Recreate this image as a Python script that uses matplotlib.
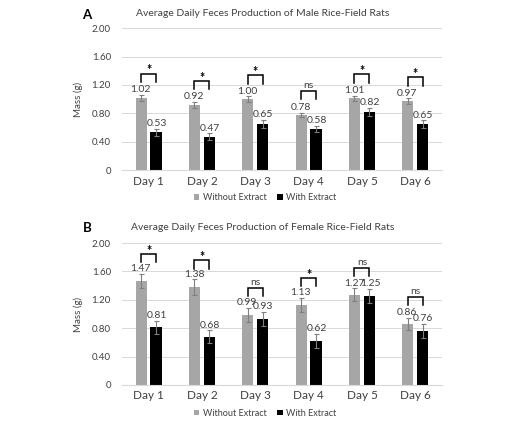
import matplotlib.pyplot as plt
import numpy as np

plt.rcParams['font.family'] = ['Lato', 'DejaVu Sans']

days = ["Day 1", "Day 2", "Day 3", "Day 4", "Day 5", "Day 6"]

male_without = [1.02, 0.92, 1.00, 0.78, 1.01, 0.97]
male_with = [0.53, 0.47, 0.65, 0.58, 0.82, 0.65]
male_without_err = [0.04, 0.04, 0.04, 0.03, 0.04, 0.04]
male_with_err = [0.05, 0.05, 0.06, 0.04, 0.06, 0.05]
male_sig = ["*", "*", "*", "ns", "*", "*"]

female_without = [1.47, 1.38, 0.99, 1.13, 1.27, 0.86]
female_with = [0.81, 0.68, 0.93, 0.62, 1.25, 0.76]
female_without_err = [0.10, 0.11, 0.10, 0.10, 0.09, 0.09]
female_with_err = [0.09, 0.09, 0.10, 0.10, 0.10, 0.10]
female_sig = ["*", "*", "ns", "*", "ns", "ns"]

yticks = [0, 0.4, 0.8, 1.2, 1.6, 2.0]
ytick_labels = ["0", "0.40", "0.80", "1.20", "1.60", "2.00"]

GRAY = '#a6a6a6'
TXT = '#404040'


def panel(ax, without, with_, err1, err2, sig, offset):
    x = np.arange(len(days))
    w = 0.21
    ekw = dict(ecolor='#7f7f7f', elinewidth=0.8, capsize=1.8, capthick=0.8)
    ax.bar(x - 0.14, without, w, color=GRAY, yerr=err1, error_kw=ekw,
           label="Without Extract", zorder=2)
    ax.bar(x + 0.14, with_, w, color='black', yerr=err2, error_kw=ekw,
           label="With Extract", zorder=2)
    for i in range(len(days)):
        for xx, v, e in ((x[i] - 0.15, without[i], err1[i]),
                         (x[i] + 0.15, with_[i], err2[i])):
            ax.annotate(f"{v:.2f}", (xx, v + e), xytext=(0, 0.5),
                        textcoords='offset points', ha='center', va='bottom',
                        fontsize=7.5, color=TXT)
        top = max(without[i], with_[i]) + offset
        ax.plot([x[i] - 0.14, x[i] - 0.14, x[i] + 0.14, x[i] + 0.14],
                [top - 0.12, top, top, top - 0.12], color='black', lw=1.1,
                solid_joinstyle='miter', zorder=3)
        if sig[i] == "*":
            ax.text(x[i], top - 0.04, "*", ha='center', va='bottom',
                    fontsize=9, fontweight='bold', color='black')
        else:
            ax.text(x[i], top + 0.01, "ns", ha='center', va='bottom',
                    fontsize=7.5, color=TXT)
    ax.set_xlim(-0.5, 5.5)
    ax.set_ylim(0, 2.0)
    ax.set_yticks(yticks)
    ax.set_yticklabels(ytick_labels)
    ax.set_xticks(x)
    ax.set_xticklabels(days)
    ax.grid(axis='y', color='#d9d9d9', lw=0.7, zorder=0)
    ax.set_axisbelow(True)
    for s in ['top', 'right', 'left']:
        ax.spines[s].set_visible(False)
    ax.spines['bottom'].set_color('#d9d9d9')
    ax.tick_params(axis='both', length=0, colors=TXT)
    ax.tick_params(axis='y', labelsize=7, pad=8)
    ax.tick_params(axis='x', labelsize=8.5, pad=4)
    ax.set_ylabel("Mass (g)", fontsize=7, color=TXT, labelpad=6)


fig = plt.figure(figsize=(5.28, 4.22), dpi=100)
ax1 = fig.add_axes([0.231, 0.597, 0.606, 0.336])
ax2 = fig.add_axes([0.231, 0.088, 0.606, 0.336])

panel(ax1, male_without, male_with, male_without_err, male_with_err, male_sig, 0.34)
panel(ax2, female_without, female_with, female_without_err, female_with_err, female_sig, 0.38)

fig.text(0.498, 0.967, "Average Daily Feces Production of Male Rice-Field Rats",
         ha='center', va='center', fontsize=7.5, color=TXT)
fig.text(0.498, 0.460, "Average Daily Feces Production of Female Rice-Field Rats",
         ha='center', va='center', fontsize=7.5, color=TXT)
fig.text(0.165, 0.965, "A", ha='center', va='center', fontsize=9.5,
         fontweight='bold', color='black')
fig.text(0.165, 0.460, "B", ha='center', va='center', fontsize=9.5,
         fontweight='bold', color='black')

for ax, ly in ((ax1, 0.531), (ax2, 0.021)):
    h, l = ax.get_legend_handles_labels()
    fig.legend(h, l, loc='center', bbox_to_anchor=(0.502, ly), ncol=2,
               frameon=False, fontsize=6.5, handlelength=0.6, handleheight=0.6,
               handletextpad=0.4, columnspacing=1.2, labelcolor=TXT)

fig.savefig("out.png", dpi=100)
